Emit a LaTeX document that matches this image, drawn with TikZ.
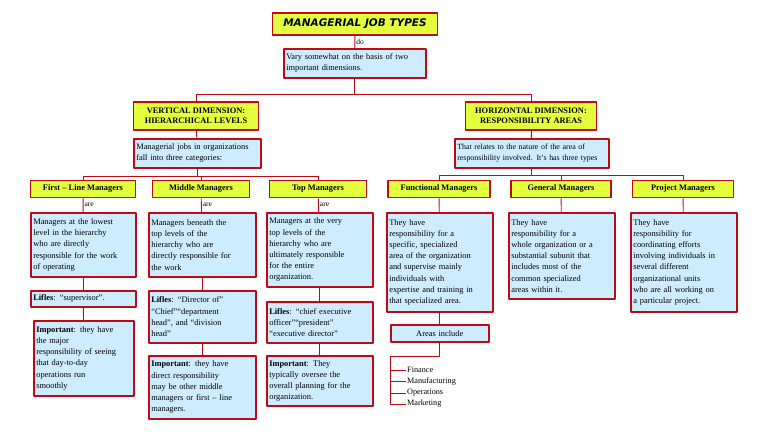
\documentclass[tikz,border=0pt]{standalone}
\usepackage{fontspec}
\setmainfont{Liberation Serif}
\setsansfont{DejaVu Sans}
\definecolor{boxred}{RGB}{190,10,20}
\definecolor{boxblue}{RGB}{206,236,255}
\definecolor{headyellow}{RGB}{228,255,60}
\begin{document}
\begin{tikzpicture}[x=1pt,y=-1pt,line join=round,
  box/.style={draw=boxred,line width=1.6pt,fill=boxblue,anchor=north west,align=left,
    inner sep=2.5pt,font=\fontsize{8.4}{11.2}\selectfont},
  head/.style={draw=boxred,line width=1.6pt,fill=headyellow,align=center,inner sep=2pt,
    font=\fontsize{8.4}{10}\selectfont\bfseries},
  link/.style={draw=boxred,line width=0.9pt},
  lbl/.style={right,inner sep=1pt,font=\fontsize{7.5}{8}\selectfont}]
\useasboundingbox (0,0) rectangle (768,433);

% top of the map
\node[head,minimum width=165pt,minimum height=22pt,font=\sffamily\bfseries\itshape\fontsize{10.5}{12}\selectfont] (title) at (355,24) {MANAGERIAL JOB TYPES};
\node[box,text width=137pt,minimum height=29pt] (vary) at (283,48) {Vary somewhat on the basis of two\\important dimensions.};
\draw[link] (title) -- node[lbl]{do} (vary);

% the two dimensions
\node[head,minimum width=125pt,minimum height=28pt] (vert) at (196,116) {VERTICAL DIMENSION:\\HIERARCHICAL LEVELS};
\node[head,minimum width=131pt,minimum height=28pt] (horz) at (531,116) {HORIZONTAL DIMENSION:\\RESPONSIBILITY AREAS};
\draw[link] (vary.south) -- ++(0,16) -| (vert.north);
\draw[link] (vary.south) -- ++(0,16) -| (horz.north);
\node[box,text width=122pt,minimum height=29pt] (vcat) at (133,138) {Managerial jobs in organizations\\fall into three categories:};
\node[box,text width=149pt,minimum height=29pt,font=\fontsize{7.9}{11.2}\selectfont] (htype) at (454,138) {That relates to the nature of the area of\\responsibility involved. It's has three types};
\draw[link] (vert) -- (vcat);
\draw[link] (horz) -- (htype);

% hierarchical levels
\node[head,minimum width=105pt,minimum height=17pt] (first) at (83,189) {First -- Line Managers};
\node[head,minimum width=97pt,minimum height=17pt] (middle) at (201,189) {Middle Managers};
\node[head,minimum width=97pt,minimum height=17pt] (top) at (318,189) {Top Managers};
\foreach \n in {first,middle,top}
  \draw[link] (vcat.south) -- ++(0,8) -| (\n.north);

\node[box,text width=100pt,minimum height=64pt] (firstd) at (30,212) {Managers at the lowest\\level in the hierarchy\\who are directly\\responsible for the work\\of operating};
\node[box,text width=102pt,minimum height=64pt] (middled) at (148,212) {Managers beneath the\\top levels of the\\hierarchy who are\\directly responsible for\\the work};
\node[box,text width=101pt,minimum height=74pt] (topd) at (266,212) {Managers at the very\\top levels of the\\hierarchy who are\\ultimately responsible\\for the entire\\organization.};
\draw[link] (first) -- node[lbl]{are} (firstd);
\draw[link] (middle) -- node[lbl]{are} (middled);
\draw[link] (top) -- node[lbl]{are} (topd);

\node[box,text width=100pt,minimum height=16pt] (firstt) at (30,290) {\textbf{Lifles}: ``supervisor''.};
\node[box,text width=102pt,minimum height=52pt] (middlet) at (148,290) {\textbf{Lifles}: ``Director of''\\``Chief''``department\\head'', and ``division\\head''};
\node[box,text width=101pt,minimum height=41pt] (topt) at (266,301) {\textbf{Lifles}: ``chief executive\\officer''``president''\\``executive director''};
\draw[link] (firstd) -- (firstt);
\draw[link] (middled) -- (middlet);
\draw[link] (topd) -- (topt);

\node[box,text width=95pt,minimum height=75pt] (firsti) at (33,320) {\textbf{Important}: they have\\the major\\responsibility of seeing\\that day-to-day\\operations run\\smoothly};
\node[box,text width=102pt,minimum height=63pt] (middlei) at (148,355) {\textbf{Important}: they have\\direct responsibility\\may be other middle\\managers or first -- line\\managers.};
\node[box,text width=101pt,minimum height=50pt] (topi) at (266,355) {\textbf{Important}: They\\typically oversee the\\overall planning for the\\organization.};
\draw[link] (firstt) -- (firsti);
\draw[link] (middlet) -- (middlei);
\draw[link] (topt) -- (topi);

% responsibility areas
\node[head,minimum width=102pt,minimum height=17pt] (func) at (439,189) {Functional Managers};
\node[head,minimum width=100pt,minimum height=17pt] (gen) at (561,189) {General Managers};
\node[head,minimum width=101pt,minimum height=17pt] (proj) at (683,189) {Project Managers};
\foreach \n in {func,gen,proj}
  \draw[link] (htype.south) -- ++(0,7) -| (\n.north);

\node[box,text width=101pt,minimum height=99pt] (funcd) at (386,212) {They have\\responsibility for a\\specific, specialized\\area of the organization\\and supervise mainly\\individuals with\\expertise and training in\\that specialized area.};
\node[box,text width=101pt,minimum height=86pt] (gend) at (508,212) {They have\\responsibility for a\\whole organization or a\\substantial subunit that\\includes most of the\\common specialized\\areas within it.};
\node[box,text width=101pt,minimum height=99pt] (projd) at (630,212) {They have\\responsibility for\\coordinating efforts\\involving individuals in\\several different\\organizational units\\who are all working on\\a particular project.};
\draw[link] (func) -- (funcd);
\draw[link] (gen) -- (gend);
\draw[link] (proj) -- (projd);

\node[box,text width=93pt,minimum height=17pt,align=center] (areas) at (390,324) {Areas include};
\draw[link] (funcd) -- (areas);

% list of areas
\coordinate (list) at (390,355);
\foreach \t/\y in {Finance/370,Manufacturing/381,Operations/393,Marketing/404}
  \node[anchor=west,inner sep=1pt,font=\fontsize{8.2}{9}\selectfont] (\t) at (406,\y) {\t};
\draw[link] (areas.south) -- ++(0,14) -| (Marketing.west -| list) -- (Marketing.west);
\foreach \t in {Finance,Manufacturing,Operations}
  \draw[link] (\t.west -| list) -- (\t.west);
\end{tikzpicture}
\end{document}
